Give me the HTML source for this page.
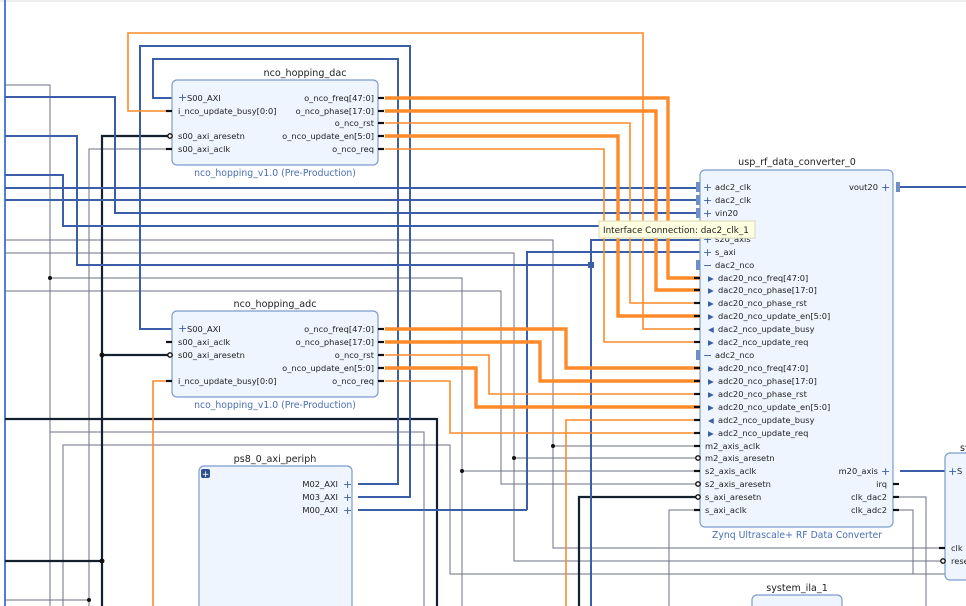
<!DOCTYPE html>
<html><head><meta charset="utf-8"><style>
html,body{margin:0;padding:0;background:#fff;}
svg{display:block;font-family:"DejaVu Sans","Liberation Sans",sans-serif;}
.p{font-size:8.3px;fill:#222;}
.t{font-size:9.6px;fill:#222;}
.s{font-size:9.3px;fill:#4a6fb5;}
.o1{stroke:#ff8a2a;stroke-width:1.6;fill:none}
.o3{stroke:#ff8a2a;stroke-width:3.4;fill:none}
.b{stroke:#3a5fa8;stroke-width:2;fill:none}
.g{stroke:#6b7280;stroke-width:1;fill:none}
.d{stroke:#15202e;stroke-width:2.2;fill:none}
.box{fill:#eef5fe;stroke:#7d9ccf;stroke-width:1.2}
.pin{stroke:#111;stroke-width:2.2}
</style></head><body>
<svg width="966" height="606" viewBox="0 0 966 606" xmlns="http://www.w3.org/2000/svg">
<line x1="0" y1="1" x2="966" y2="1" stroke="#ddd"/>
<line x1="5" y1="0" x2="5" y2="606" stroke="#4f7fd8" stroke-width="2"/>

<!-- gray wires -->
<path class="g" d="M5 85H50V606"/>
<path class="g" d="M172 149H89V606 M5 600H89"/>
<path class="g" d="M5 240H553V548H945"/>
<path class="g" d="M5 253H514V561H945"/>
<path class="g" d="M50 278H462V606"/>
<path class="g" d="M5 291H501V484H700"/>
<path class="g" d="M50 432H424V606"/>
<path class="g" d="M63 606V445H450V574H945"/>
<path class="g" d="M553 446H700 M514 458H700 M462 471H700"/>
<path class="g" d="M700 510H669V606"/>
<path class="g" d="M893 497H926V606 M893 510H913V574"/>
<!-- dark wires -->
<path class="d" d="M172 136H102V606 M102 355H172 M5 561H102"/>
<path class="d" d="M5 419H437V606"/>
<path class="d" d="M700 497H579V606"/>
<!-- blue wires -->
<path class="b" d="M5 97H115V213H700"/>
<path class="b" d="M5 136H77V265H591"/>
<path class="b" d="M5 175H63V226H700"/>
<path class="b" d="M5 188H700 M5 200H700"/>
<path class="b" d="M591 606V240H700 M527 510V252H700"/>
<path class="b" d="M172 98H153V59H398V484H358"/>
<path class="b" d="M172 329H140V46H410V497H358"/>
<path class="b" d="M358 510H527"/>
<path class="b" d="M900 187H966 M900 471H945"/>
<rect x="588" y="262" width="6" height="6" fill="#3a5fa8"/>
<g fill="#111"><circle cx="102" cy="355" r="2.5"/><circle cx="102" cy="561" r="2.5"/><circle cx="89" cy="600" r="2"/><circle cx="50" cy="278" r="2"/><circle cx="553" cy="446" r="2"/><circle cx="514" cy="458" r="2"/><circle cx="462" cy="471" r="2"/></g>
<!-- orange -->
<path class="o1" d="M172 111H128V33H643V329H700"/>
<path class="o3" d="M385 98H668V278H700"/>
<path class="o3" d="M385 111H656V290H700"/>
<path class="o1" d="M385 123H630V303H700"/>
<path class="o3" d="M385 136H618V316H700"/>
<path class="o1" d="M385 149H604V342H700"/>
<path class="o3" d="M385 329H566V368H700"/>
<path class="o3" d="M385 342H540V381H700"/>
<path class="o1" d="M385 355H489V394H700"/>
<path class="o3" d="M385 368H476V407H700"/>
<path class="o1" d="M385 381H450V433H700"/>
<path class="o1" d="M700 420H566V606"/>
<path class="o1" d="M172 381H153V606"/>

<!-- nco_hopping_dac -->
<text class="t" x="305" y="76" text-anchor="middle">nco_hopping_dac</text>
<rect class="box" x="172" y="80" width="206" height="85" rx="5"/>
<g class="p">
<text x="187" y="101">S00_AXI</text><text x="178" y="101" fill="#3a5fa8" font-size="11">+</text>
<text x="178" y="114">i_nco_update_busy[0:0]</text>
<text x="178" y="139">s00_axi_aresetn</text>
<text x="178" y="152">s00_axi_aclk</text>
<g text-anchor="end"><text x="374" y="101">o_nco_freq[47:0]</text><text x="374" y="114">o_nco_phase[17:0]</text><text x="374" y="126">o_nco_rst</text><text x="374" y="139">o_nco_update_en[5:0]</text><text x="374" y="152">o_nco_req</text></g>
</g>
<text class="s" x="275" y="176" text-anchor="middle">nco_hopping_v1.0 (Pre-Production)</text>
<g class="pin"><line x1="166" y1="111" x2="172" y2="111"/><line x1="166" y1="149" x2="172" y2="149"/><line x1="378" y1="98" x2="384" y2="98"/><line x1="378" y1="111" x2="384" y2="111"/><line x1="378" y1="123" x2="384" y2="123"/><line x1="378" y1="136" x2="384" y2="136"/><line x1="378" y1="149" x2="384" y2="149"/></g>
<circle cx="170" cy="136" r="2.2" fill="#fff" stroke="#111" stroke-width="1.4"/>

<!-- nco_hopping_adc -->
<text class="t" x="275" y="307" text-anchor="middle">nco_hopping_adc</text>
<rect class="box" x="172" y="311" width="206" height="86" rx="5"/>
<g class="p">
<text x="187" y="332">S00_AXI</text><text x="178" y="332" fill="#3a5fa8" font-size="11">+</text>
<text x="178" y="345">s00_axi_aclk</text>
<text x="178" y="358">s00_axi_aresetn</text>
<text x="178" y="384">i_nco_update_busy[0:0]</text>
<g text-anchor="end"><text x="374" y="332">o_nco_freq[47:0]</text><text x="374" y="345">o_nco_phase[17:0]</text><text x="374" y="358">o_nco_rst</text><text x="374" y="371">o_nco_update_en[5:0]</text><text x="374" y="384">o_nco_req</text></g>
</g>
<text class="s" x="275" y="408" text-anchor="middle">nco_hopping_v1.0 (Pre-Production)</text>
<g class="pin"><line x1="166" y1="342" x2="172" y2="342"/><line x1="166" y1="381" x2="172" y2="381"/><line x1="378" y1="329" x2="384" y2="329"/><line x1="378" y1="342" x2="384" y2="342"/><line x1="378" y1="355" x2="384" y2="355"/><line x1="378" y1="368" x2="384" y2="368"/><line x1="378" y1="381" x2="384" y2="381"/></g>
<circle cx="170" cy="355" r="2.2" fill="#fff" stroke="#111" stroke-width="1.4"/>

<!-- ps8_0_axi_periph -->
<text class="t" x="275" y="462" text-anchor="middle">ps8_0_axi_periph</text>
<rect class="box" x="199" y="466" width="153" height="150" rx="5"/>
<rect x="201" y="469" width="9" height="9" rx="2" fill="#2f4f8f"/>
<text x="205.5" y="477" font-size="9" fill="#fff" text-anchor="middle">+</text>
<g class="p" text-anchor="end"><text x="338" y="487">M02_AXI</text><text x="338" y="500">M03_AXI</text><text x="338" y="513">M00_AXI</text></g>
<g fill="#3a5fa8" font-size="11"><text x="343" y="488">+</text><text x="343" y="501">+</text><text x="343" y="514">+</text></g>

<!-- rf converter -->
<text class="t" x="797" y="165" text-anchor="middle">usp_rf_data_converter_0</text>
<rect class="box" x="700" y="170" width="193" height="357" rx="5"/>
<g fill="#6d8fc6"><rect x="696" y="182" width="4" height="10"/><rect x="696" y="195" width="4" height="10"/><rect x="696" y="208" width="4" height="10"/><rect x="696" y="260" width="4" height="10"/><rect x="696" y="350" width="4" height="10"/><rect x="896" y="182" width="4" height="10"/></g>
<g class="p">
<text x="715" y="190">adc2_clk</text><text x="715" y="203">dac2_clk</text><text x="715" y="216">vin20</text>
<text x="715" y="242">s20_axis</text><text x="715" y="255">s_axi</text><text x="715" y="268">dac2_nco</text>
<text x="718" y="281">dac20_nco_freq[47:0]</text><text x="718" y="293">dac20_nco_phase[17:0]</text><text x="718" y="306">dac20_nco_phase_rst</text><text x="718" y="319">dac20_nco_update_en[5:0]</text><text x="718" y="332">dac2_nco_update_busy</text><text x="718" y="345">dac2_nco_update_req</text>
<text x="715" y="358">adc2_nco</text>
<text x="718" y="371">adc20_nco_freq[47:0]</text><text x="718" y="384">adc20_nco_phase[17:0]</text><text x="718" y="397">adc20_nco_phase_rst</text><text x="718" y="410">adc20_nco_update_en[5:0]</text><text x="718" y="423">adc2_nco_update_busy</text><text x="718" y="436">adc2_nco_update_req</text>
<text x="705" y="449">m2_axis_aclk</text><text x="705" y="461">m2_axis_aresetn</text><text x="705" y="474">s2_axis_aclk</text><text x="705" y="487">s2_axis_aresetn</text><text x="705" y="500">s_axi_aresetn</text><text x="705" y="513">s_axi_aclk</text>
<g text-anchor="end"><text x="878" y="190">vout20</text><text x="878" y="474">m20_axis</text><text x="887" y="487">irq</text><text x="887" y="500">clk_dac2</text><text x="887" y="513">clk_adc2</text></g>
</g>
<g fill="#3a5fa8" font-size="11"><text x="703" y="191">+</text><text x="703" y="204">+</text><text x="703" y="217">+</text><text x="703" y="243">+</text><text x="703" y="256">+</text><text x="703" y="269">−</text><text x="703" y="359">−</text><text x="881" y="191">+</text><text x="881" y="475">+</text></g>
<g fill="#3a5fa8" font-size="7.5"><text x="708" y="281">▶</text><text x="708" y="293">▶</text><text x="708" y="306">▶</text><text x="708" y="319">▶</text><text x="708" y="332">◀</text><text x="708" y="345">▶</text><text x="708" y="371">▶</text><text x="708" y="384">▶</text><text x="708" y="397">▶</text><text x="708" y="410">▶</text><text x="708" y="423">◀</text><text x="708" y="436">▶</text></g>
<g class="pin"><line x1="694" y1="278" x2="700" y2="278"/><line x1="694" y1="290" x2="700" y2="290"/><line x1="694" y1="303" x2="700" y2="303"/><line x1="694" y1="316" x2="700" y2="316"/><line x1="694" y1="329" x2="700" y2="329"/><line x1="694" y1="342" x2="700" y2="342"/><line x1="694" y1="368" x2="700" y2="368"/><line x1="694" y1="381" x2="700" y2="381"/><line x1="694" y1="394" x2="700" y2="394"/><line x1="694" y1="407" x2="700" y2="407"/><line x1="694" y1="420" x2="700" y2="420"/><line x1="694" y1="433" x2="700" y2="433"/><line x1="694" y1="446" x2="700" y2="446"/><line x1="694" y1="471" x2="700" y2="471"/><line x1="694" y1="510" x2="700" y2="510"/><line x1="893" y1="484" x2="899" y2="484"/><line x1="893" y1="497" x2="899" y2="497"/><line x1="893" y1="510" x2="899" y2="510"/></g>
<g fill="#fff" stroke="#111" stroke-width="1.4"><circle cx="698" cy="458" r="2.2"/><circle cx="698" cy="484" r="2.2"/><circle cx="698" cy="497" r="2.2"/></g>
<text class="s" x="797" y="538" text-anchor="middle">Zynq Ultrascale+ RF Data Converter</text>

<!-- right partial box -->
<text class="t" x="960" y="451">sy</text>
<rect class="box" x="945" y="453" width="30" height="127" rx="5"/>
<text x="948" y="475" fill="#3a5fa8" font-size="11">+</text>
<g class="p"><text x="957" y="474">S</text><text x="951" y="551">clk</text><text x="951" y="564">rese</text></g>
<line x1="939" y1="548" x2="945" y2="548" class="pin"/>
<circle cx="943" cy="561" r="2.2" fill="#fff" stroke="#111" stroke-width="1.4"/>

<!-- system_ila_1 -->
<text class="t" x="797" y="591" text-anchor="middle">system_ila_1</text>
<rect class="box" x="752" y="595" width="90" height="30" rx="5"/>

<!-- tooltip -->
<rect x="599" y="221" width="156" height="17" fill="#ffffe1" stroke="#d8d8b0"/>
<text x="603" y="233" font-size="8.8" fill="#222">Interface Connection: dac2_clk_1</text>
</svg>
</body></html>
